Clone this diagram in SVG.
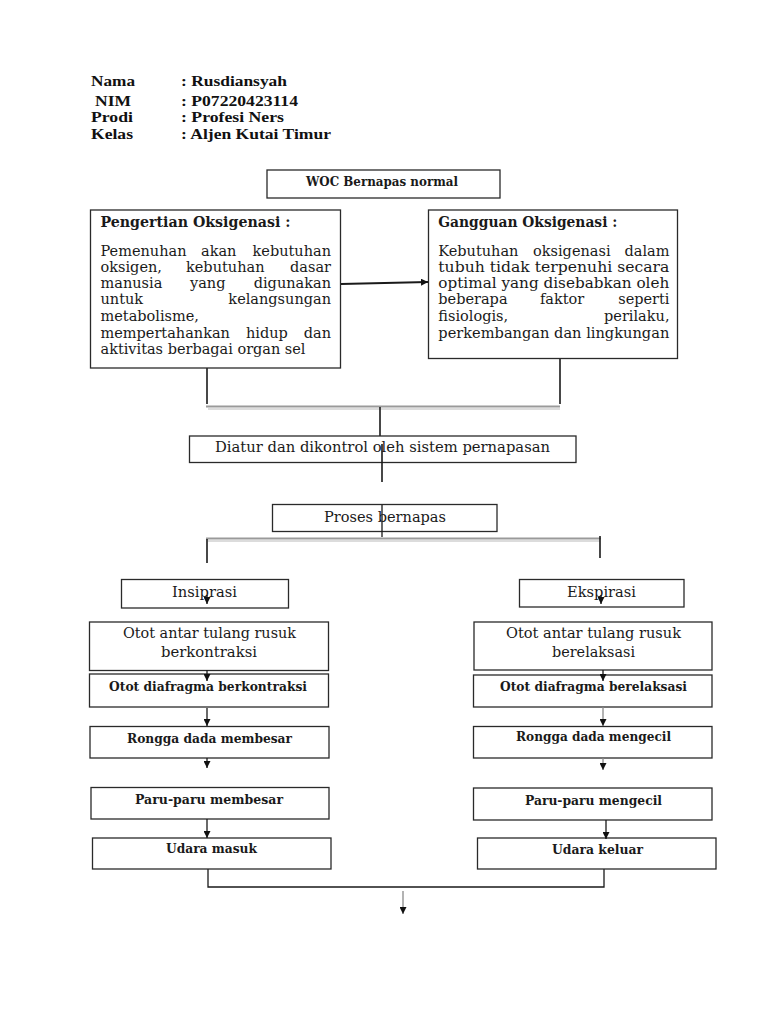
<svg xmlns="http://www.w3.org/2000/svg" width="768" height="1024" viewBox="0 0 768 1024">
<style>
  .bg{fill:#ffffff}
  .box{fill:#ffffff;stroke:#2a2a2a;stroke-width:1.3}
  .hdr{font-family:"Liberation Serif","Times New Roman",serif;font-weight:bold;font-size:15.5px;fill:#111}
  .t{font-family:"DejaVu Serif","Liberation Serif",serif;font-size:14.5px;fill:#1a1a1a}
  .tb{font-family:"DejaVu Serif","Liberation Serif",serif;font-size:14px;font-weight:bold;fill:#1a1a1a}
  .sb{font-family:"DejaVu Serif","Liberation Serif",serif;font-size:12px;font-weight:bold;fill:#1a1a1a}
  .ln{stroke:#1a1a1a;stroke-width:1.6;fill:none}
  .gl{stroke:#9a9a9a;stroke-width:2.2;fill:none}
  .gs{stroke:#dcdcdc;stroke-width:2;fill:none}
  .ar{stroke:#1a1a1a;stroke-width:1.3;fill:none;marker-end:url(#ah)}
  .arg{stroke:#8a8a8a;stroke-width:1.3;fill:none;marker-end:url(#ah)}
</style>
<defs>
  <marker id="ah" viewBox="0 0 10 10" refX="10" refY="5" markerWidth="7" markerHeight="7" markerUnits="userSpaceOnUse" orient="auto">
    <path d="M0,0 L10,5 L0,10 z" fill="#111"/>
  </marker>
</defs>
<rect class="bg" x="0" y="0" width="768" height="1024"/>

<g id="header">
  <text class="hdr" x="91" y="86" textLength="44" lengthAdjust="spacingAndGlyphs">Nama</text>
  <text class="hdr" x="181" y="86" textLength="106" lengthAdjust="spacingAndGlyphs">: Rusdiansyah</text>
  <text class="hdr" x="95" y="105.5" textLength="36" lengthAdjust="spacingAndGlyphs">NIM</text>
  <text class="hdr" x="181" y="105.5" textLength="117" lengthAdjust="spacingAndGlyphs">: P07220423114</text>
  <text class="hdr" x="91" y="122" textLength="42" lengthAdjust="spacingAndGlyphs">Prodi</text>
  <text class="hdr" x="181" y="122" textLength="103" lengthAdjust="spacingAndGlyphs">: Profesi Ners</text>
  <text class="hdr" x="91" y="138.5" textLength="42" lengthAdjust="spacingAndGlyphs">Kelas</text>
  <text class="hdr" x="181" y="138.5" textLength="150" lengthAdjust="spacingAndGlyphs">: Aljen Kutai Timur</text>
</g>

<g id="connectors">
  <path class="ar" d="M341,284 L428,282" style="stroke-width:2"/>
  <line class="ln" x1="207" y1="368" x2="207" y2="404"/>
  <line class="ln" x1="560" y1="358" x2="560" y2="404"/>
  <line class="gs" x1="208" y1="409" x2="560" y2="409"/>
  <line class="gl" x1="206" y1="406.5" x2="560" y2="406.5"/>
  <line class="ln" x1="380" y1="407" x2="380" y2="436"/>
  <line class="gs" x1="208" y1="541" x2="600" y2="541"/>
  <line class="gl" x1="206" y1="538.5" x2="601" y2="538.5"/>
  <line class="ln" x1="207" y1="539" x2="207" y2="563"/>
  <line class="ln" x1="600" y1="536" x2="600" y2="558"/>
  <path class="ln" d="M208,869 L208,887 L604,887 L604,869" style="stroke-width:1.3"/>
  <path class="arg" d="M403,891 L403,914"/>
</g>

<g id="woc">
  <rect class="box" x="267" y="170" width="233" height="28"/>
  <text class="tb" x="306" y="186" style="font-size:12.5px" textLength="152" lengthAdjust="spacingAndGlyphs">WOC Bernapas normal</text>
</g>

<g id="pengertian">
  <rect class="box" x="90.5" y="210" width="250" height="158"/>
  <text class="tb" x="100.5" y="227" textLength="190" lengthAdjust="spacingAndGlyphs">Pengertian Oksigenasi :</text>
  <text class="t" x="100.5" y="255.5">Pemenuhan</text>
  <text class="t" x="201" y="255.5">akan</text>
  <text class="t" x="331" y="255.5" text-anchor="end">kebutuhan</text>
  <text class="t" x="100.5" y="271.5">oksigen,</text>
  <text class="t" x="186" y="271.5">kebutuhan</text>
  <text class="t" x="331" y="271.5" text-anchor="end">dasar</text>
  <text class="t" x="100.5" y="287.5">manusia</text>
  <text class="t" x="190" y="287.5">yang</text>
  <text class="t" x="331" y="287.5" text-anchor="end">digunakan</text>
  <text class="t" x="100.5" y="304">untuk</text>
  <text class="t" x="331" y="304" text-anchor="end">kelangsungan</text>
  <text class="t" x="100.5" y="320.5">metabolisme,</text>
  <text class="t" x="100.5" y="337.5">mempertahankan</text>
  <text class="t" x="246" y="337.5">hidup</text>
  <text class="t" x="331" y="337.5" text-anchor="end">dan</text>
  <text class="t" x="100.5" y="354" textLength="205" lengthAdjust="spacingAndGlyphs">aktivitas berbagai organ sel</text>
</g>

<g id="gangguan">
  <rect class="box" x="428.5" y="210" width="249" height="148.5"/>
  <text class="tb" x="438.3" y="227" textLength="179" lengthAdjust="spacingAndGlyphs">Gangguan Oksigenasi :</text>
  <text class="t" x="438.3" y="255.5">Kebutuhan</text>
  <text class="t" x="533" y="255.5">oksigenasi</text>
  <text class="t" x="669.5" y="255.5" text-anchor="end">dalam</text>
  <text class="t" x="438.3" y="271.5" textLength="231" lengthAdjust="spacingAndGlyphs">tubuh tidak terpenuhi secara</text>
  <text class="t" x="438.3" y="288" textLength="231" lengthAdjust="spacingAndGlyphs">optimal yang disebabkan oleh</text>
  <text class="t" x="438.3" y="304">beberapa</text>
  <text class="t" x="540" y="304">faktor</text>
  <text class="t" x="669.5" y="304" text-anchor="end">seperti</text>
  <text class="t" x="438.3" y="321">fisiologis,</text>
  <text class="t" x="669.5" y="321" text-anchor="end">perilaku,</text>
  <text class="t" x="438.3" y="338" textLength="231" lengthAdjust="spacingAndGlyphs">perkembangan dan lingkungan</text>
</g>

<g id="diatur">
  <rect class="box" x="189.5" y="436" width="386.5" height="26.5"/>
  <text class="t" x="215" y="452" textLength="335" lengthAdjust="spacingAndGlyphs">Diatur dan dikontrol oleh sistem pernapasan</text>
  <line class="ln" x1="382" y1="444" x2="382" y2="482"/>
</g>

<g id="proses">
  <rect class="box" x="272.5" y="504.5" width="224.5" height="27"/>
  <text class="t" x="324" y="522" textLength="122" lengthAdjust="spacingAndGlyphs">Proses bernapas</text>
  <line class="ln" x1="382" y1="505" x2="382" y2="537" style="stroke-width:1.3"/>
</g>

<g id="insipirasi">
  <rect class="box" x="121.5" y="579.5" width="167" height="28.5"/>
  <text class="t" x="172" y="597" textLength="65" lengthAdjust="spacingAndGlyphs">Insiprasi</text>
  <path class="ar" d="M207,595 L207,604"/>
</g>

<g id="ekspirasi">
  <rect class="box" x="519.5" y="579.5" width="164.5" height="27.5"/>
  <text class="t" x="567" y="597" textLength="69" lengthAdjust="spacingAndGlyphs">Ekspirasi</text>
  <path class="ar" d="M601,595 L601,604"/>
</g>

<g id="l1">
  <rect class="box" x="89.5" y="622" width="239" height="48.5"/>
  <text class="t" x="123" y="638" textLength="173" lengthAdjust="spacingAndGlyphs">Otot antar tulang rusuk</text>
  <text class="t" x="161" y="657" textLength="96" lengthAdjust="spacingAndGlyphs">berkontraksi</text>
</g>
<g id="l2">
  <rect class="box" x="89.5" y="674" width="239" height="33"/>
  <text class="sb" x="109" y="690.5" textLength="198" lengthAdjust="spacingAndGlyphs">Otot diafragma berkontraksi</text>
</g>
<g id="l3">
  <rect class="box" x="90" y="726.5" width="239" height="31.5"/>
  <text class="sb" x="127" y="743" textLength="165" lengthAdjust="spacingAndGlyphs">Rongga dada membesar</text>
</g>
<g id="l4">
  <rect class="box" x="91" y="787.5" width="238" height="31.5"/>
  <text class="sb" x="135" y="804" textLength="148" lengthAdjust="spacingAndGlyphs">Paru-paru membesar</text>
</g>
<g id="l5">
  <rect class="box" x="92.5" y="838" width="238.5" height="31"/>
  <text class="sb" x="166" y="853" textLength="91" lengthAdjust="spacingAndGlyphs">Udara masuk</text>
</g>

<g id="r1">
  <rect class="box" x="474" y="622" width="238" height="48"/>
  <text class="t" x="506" y="638" textLength="175" lengthAdjust="spacingAndGlyphs">Otot antar tulang rusuk</text>
  <text class="t" x="552" y="657" textLength="83" lengthAdjust="spacingAndGlyphs">berelaksasi</text>
</g>
<g id="r2">
  <rect class="box" x="473.5" y="675" width="238.5" height="32"/>
  <text class="sb" x="500" y="691" textLength="187" lengthAdjust="spacingAndGlyphs">Otot diafragma berelaksasi</text>
</g>
<g id="r3">
  <rect class="box" x="473.5" y="726.5" width="238.5" height="31.5"/>
  <text class="sb" x="516" y="741" textLength="155" lengthAdjust="spacingAndGlyphs">Rongga dada mengecil</text>
</g>
<g id="r4">
  <rect class="box" x="473.5" y="788" width="238.5" height="32"/>
  <text class="sb" x="525" y="805" textLength="137" lengthAdjust="spacingAndGlyphs">Paru-paru mengecil</text>
</g>
<g id="r5">
  <rect class="box" x="477.5" y="838" width="238.5" height="31"/>
  <text class="sb" x="552" y="853.5" textLength="91" lengthAdjust="spacingAndGlyphs">Udara keluar</text>
</g>

<g id="flow-arrows">
  <path class="ar" d="M207,670 L207,681"/>
  <path class="ar" d="M207,708 L207,726"/>
  <path class="ar" d="M207,758 L207,768"/>
  <path class="ar" d="M207,819 L207,838"/>
  <path class="ar" d="M603,670 L603,681"/>
  <path class="arg" d="M603,707 L603,726"/>
  <path class="arg" d="M603,758 L603,770"/>
  <path class="ar" d="M606,820 L606,839"/>
</g>
</svg>
